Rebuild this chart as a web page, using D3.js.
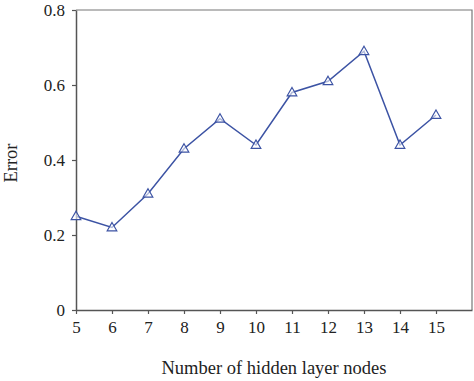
<!DOCTYPE html>
<html><head><meta charset="utf-8">
<script src="https://cdn.jsdelivr.net/npm/d3@7"></script>
<style>body{margin:0;background:#fff}svg{display:block}</style>
</head><body>
<svg id="c" width="474" height="381"></svg>
<script>
const nodes = [5,6,7,8,9,10,11,12,13,14,15];
const errors = [0.25,0.22,0.31,0.43,0.51,0.44,0.58,0.61,0.69,0.44,0.52];
const yTicks = [0,0.2,0.4,0.6,0.8];
const xTicks = [5,6,7,8,9,10,11,12,13,14,15];

const svg = d3.select("#c");
const L=76,R=472,T=10,B=310;
const x = d3.scaleLinear().domain([5,16]).range([L,R]);
const y = d3.scaleLinear().domain([0,0.8]).range([B,T]);
const axisColor="#555";
const font="'Liberation Serif','DejaVu Serif',serif";

// frame
svg.append("path").attr("d",`M${L},${T}H${R}V${B}`).attr("fill","none").attr("stroke","#777").attr("stroke-width",1.2);

const gx = svg.append("g").attr("transform",`translate(0,${B})`)
  .call(d3.axisBottom(x).tickValues(xTicks).tickFormat(d3.format("d")).tickSize(4).tickSizeOuter(0).tickPadding(7));
const gy = svg.append("g").attr("transform",`translate(${L},0)`)
  .call(d3.axisLeft(y).tickValues(yTicks).tickFormat(d=>d===0?"0":d3.format(".1f")(d)).tickSize(4).tickSizeOuter(0).tickPadding(7));
[gx,gy].forEach(g=>{
  g.select(".domain").attr("stroke",axisColor).attr("stroke-width",1.5);
  g.selectAll(".tick line").attr("stroke",axisColor).attr("stroke-width",1.2);
  g.selectAll("text").attr("fill","#222").style("font-family",font).style("font-size","17px");
});

const line = d3.line().x((d,i)=>x(nodes[i])).y(d=>y(d));
svg.append("path").datum(errors).attr("d",line).attr("fill","none").attr("stroke","#3c53a4").attr("stroke-width",1.5);

const tri = d3.symbol().type(d3.symbolTriangle).size(40);
svg.append("g").selectAll("path").data(errors).join("path")
  .attr("d",tri)
  .attr("transform",(d,i)=>`translate(${x(nodes[i])},${y(d)+0.5})`)
  .attr("fill","#fff").attr("fill-opacity",0.6).attr("stroke","#3c53a4").attr("stroke-width",1.2);

svg.append("text").attr("x",274).attr("y",374).attr("text-anchor","middle")
  .style("font-family",font).style("font-size","18.5px").attr("fill","#222")
  .text("Number of hidden layer nodes");
svg.append("text").attr("transform","translate(17,163) rotate(-90)").attr("text-anchor","middle")
  .style("font-family",font).style("font-size","18.5px").attr("fill","#222")
  .text("Error");
</script>
</body></html>
